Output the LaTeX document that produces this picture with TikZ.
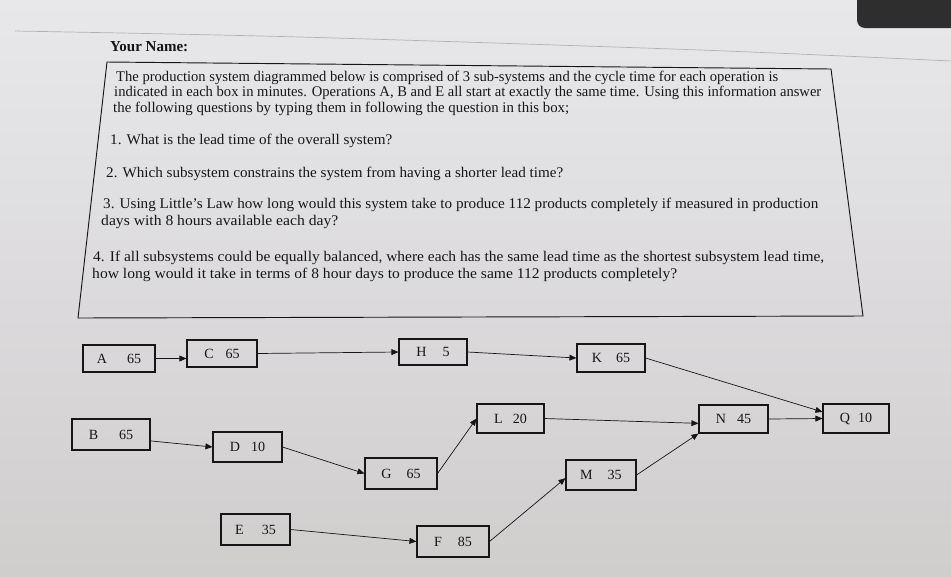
\documentclass[tikz,border=0pt]{standalone}
\usepackage{fontspec}
\setmainfont{Liberation Serif}
\usepackage{graphicx}
\usetikzlibrary{arrows.meta,calc}
\newdimen\pxu \pxu=0.03cm
\newcommand{\fitw}[2]{\resizebox{#1\pxu}{\height}{#2}}
\definecolor{ink}{RGB}{22,22,24}
\definecolor{papertop}{RGB}{232,232,235}
\definecolor{paperbot}{RGB}{208,205,205}
\tikzset{
  txt/.style={inner sep=0pt, anchor=base west, text=ink, font=\fontsize{12.6}{14}\selectfont},
  opbox/.style={draw=ink, line width=0.9pt, inner sep=0pt, text=ink, font=\fontsize{12}{14}\selectfont},
  flow/.style={draw=ink, line width=0.6pt, -{Triangle[length=6pt,width=5pt]}},
  qframe/.style={draw=ink, line width=0.8pt}
}
\begin{document}
\begin{tikzpicture}[x=0.03cm, y=-0.03cm]
\useasboundingbox (0,0) rectangle (951,576);
\shade[top color=papertop, bottom color=paperbot] (0,0) rectangle (951,576);
% paper edge and object at top
\draw[gray!60, line width=0.6pt] plot[smooth] coordinates {(15,31) (300,37) (700,50) (951,61)};
\fill[black!82, rounded corners=8\pxu] (857,-10) rectangle (960,28);

% title
\node[txt, font=\bfseries\fontsize{13}{15}\selectfont] (name) at (110,51) {\fitw{78}{Your Name:}};

% question frame
\draw[qframe] (107,62) -- (831,69) -- (863,316) -- (78,318) -- cycle;

\node[txt] (l1) at (116,81) {\fitw{662}{The production system diagrammed below is comprised of 3 sub-systems and the cycle time for each operation is}};
\node[txt] (l2) at (114,96) {\fitw{707}{indicated in each box in minutes. Operations A, B and E all start at exactly the same time. Using this information answer}};
\node[txt] (l3) at (113,112) {\fitw{456}{the following questions by typing them in following the question in this box;}};
\node[txt] (q1) at (110,144) {\fitw{282}{1. What is the lead time of the overall system?}};
\node[txt] (q2) at (106,177) {\fitw{457}{2. Which subsystem constrains the system from having a shorter lead time?}};
\node[txt] (q3a) at (103,208) {\fitw{715}{3. Using Little’s Law how long would this system take to produce 112 products completely if measured in production}};
\node[txt] (q3b) at (101,225) {\fitw{237}{days with 8 hours available each day?}};
\node[txt] (q4a) at (93,261) {\fitw{731}{4. If all subsystems could be equally balanced, where each has the same lead time as the shortest subsystem lead time,}};
\node[txt] (q4b) at (92,278) {\fitw{585}{how long would it take in terms of 8 hour days to produce the same 112 products completely?}};

% operation boxes
\node[opbox, minimum width=72\pxu, minimum height=27\pxu] (A) at (119,358.5) {A\hspace{20\pxu}65};
\node[opbox, minimum width=70\pxu, minimum height=27\pxu] (C) at (222,353.5) {C\hspace{12\pxu}65};
\node[opbox, minimum width=68\pxu, minimum height=26\pxu] (H) at (433,352) {H\hspace{16\pxu}5};
\node[opbox, minimum width=68\pxu, minimum height=28\pxu] (K) at (611,358) {K\hspace{14\pxu}65};
\node[opbox, minimum width=78\pxu, minimum height=31\pxu] (B) at (111,434.5) {B\hspace{21\pxu}65};
\node[opbox, minimum width=69\pxu, minimum height=30\pxu] (D) at (247.5,447) {D\hspace{11\pxu}10};
\node[opbox, minimum width=72\pxu, minimum height=31\pxu] (G) at (401,473.5) {G\hspace{15\pxu}65};
\node[opbox, minimum width=67\pxu, minimum height=29\pxu] (L) at (510.5,418.5) {L\hspace{10\pxu}20};
\node[opbox, minimum width=69\pxu, minimum height=31\pxu] (E) at (255.5,529.5) {E\hspace{18\pxu}35};
\node[opbox, minimum width=72\pxu, minimum height=31\pxu] (F) at (453,541.5) {F\hspace{16\pxu}85};
\node[opbox, minimum width=70\pxu, minimum height=30\pxu] (M) at (601,475) {M\hspace{15\pxu}35};
\node[opbox, minimum width=69\pxu, minimum height=28\pxu] (N) at (733.5,419) {N\hspace{11\pxu}45};
\node[opbox, minimum width=66\pxu, minimum height=29\pxu] (Q) at (856,418.5) {Q\hspace{8\pxu}10};

% connectors
\draw[flow] (A.east) -- (A.east -| C.west);
\draw[flow] (C.east) -- (H.west);
\draw[flow] (H.east) -- (K.west);
\draw[flow] (K.east) -- ($(Q.north west)!0.28!(Q.south west)$);
\draw[flow] ($(B.north east)!0.7!(B.south east)$) -- (D.west);
\draw[flow] (D.east) -- (G.west);
\draw[flow] (G.east) -- (L.west);
\draw[flow] (L.east) -- ($(N.north west)!0.65!(N.south west)$);
\draw[flow] (E.east) -- (F.west);
\draw[flow] (F.east) -- ($(M.north west)!0.6!(M.south west)$);
\draw[flow] (M.east) -- (N.south west);
\draw[flow] (N.east) -- (Q.west);
\end{tikzpicture}
\end{document}
